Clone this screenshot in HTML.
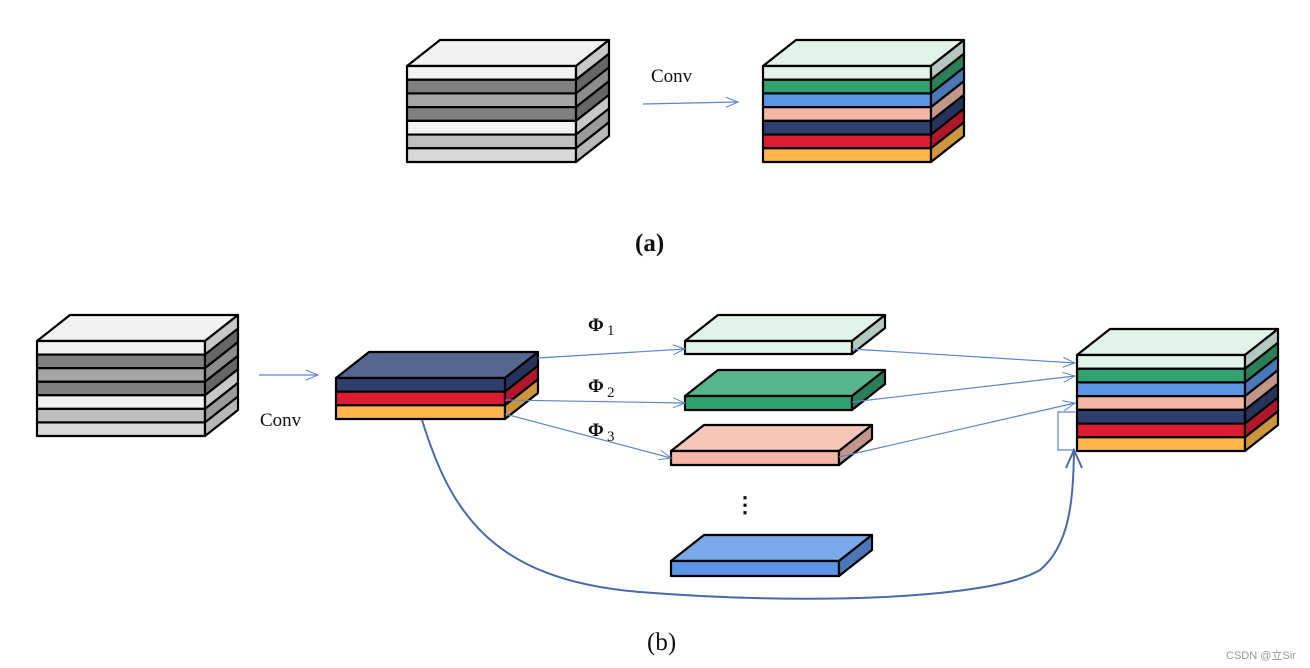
<!DOCTYPE html>
<html><head><meta charset="utf-8"><style>
html,body{margin:0;padding:0;background:#fff;width:1310px;height:668px;overflow:hidden}
svg{display:block}
text{font-family:"Liberation Serif",serif;fill:#111}
</style></head><body>
<svg id="s" width="1310" height="668" xmlns="http://www.w3.org/2000/svg">
<defs>
<marker id="ah" markerWidth="14" markerHeight="12" refX="13" refY="6" orient="auto" markerUnits="userSpaceOnUse">
<path d="M1,1 L13,6 L1,11" fill="none" stroke="#5b87c9" stroke-width="1"/>
</marker>
</defs>
<g id="g"></g>
<g fill="none" stroke="#5b87c9" stroke-width="1.2">
<line x1="643" y1="104" x2="738" y2="102" marker-end="url(#ah)"/>
<line x1="259" y1="375" x2="318" y2="375" marker-end="url(#ah)"/>
<line x1="538" y1="358" x2="685" y2="349" marker-end="url(#ah)"/>
<line x1="505" y1="400" x2="685" y2="403" marker-end="url(#ah)"/>
<line x1="505" y1="414" x2="671" y2="458" marker-end="url(#ah)"/>
<line x1="852" y1="349" x2="1075" y2="363" marker-end="url(#ah)"/>
<line x1="852" y1="402" x2="1075" y2="376" marker-end="url(#ah)"/>
<line x1="839" y1="457" x2="1075" y2="403" marker-end="url(#ah)"/>
<polyline points="1075,412 1058,412 1058,450 1073,450"/>
</g>
<path d="M422,420 C450,510 490,580 640,592 C800,605 990,600 1040,570 C1070,545 1073,500 1074,452" fill="none" stroke="#4a6aa8" stroke-width="2"/>
<path d="M1066,468 L1074,450 L1082,468" fill="none" stroke="#4a6aa8" stroke-width="2"/>
<text x="651" y="82" font-size="19">Conv</text>
<text x="260" y="426" font-size="19">Conv</text>
<text x="635" y="251" font-size="25" font-weight="bold">(a)</text>
<text x="647" y="650" font-size="25">(b)</text>
<text x="588" y="331" font-size="19" font-weight="bold" font-family="DejaVu Sans">Φ</text><text x="607" y="335" font-size="15">1</text>
<text x="588" y="392" font-size="19" font-weight="bold" font-family="DejaVu Sans">Φ</text><text x="607" y="397" font-size="15">2</text>
<text x="588" y="436" font-size="19" font-weight="bold" font-family="DejaVu Sans">Φ</text><text x="607" y="441" font-size="15">3</text>
<text x="734" y="512" font-size="22" font-weight="bold">⋮</text>
<text x="1226" y="659" font-size="11" style="font-family:'Liberation Sans','Noto Sans CJK SC',sans-serif;fill:#999">CSDN @立Sir</text>
</svg>
<script>
var g=document.getElementById('g');
function P(pts,fill){var p=document.createElementNS('http://www.w3.org/2000/svg','polygon');p.setAttribute('points',pts.map(function(a){return a.join(',')}).join(' '));p.setAttribute('fill',fill);p.setAttribute('stroke','#000');p.setAttribute('stroke-width','2.2');p.setAttribute('stroke-linejoin','round');g.appendChild(p);}
function box(x0,x1,yt,yb,dx,dy,layers,top){
 P([[x0,yt],[x0+dx,yt-dy],[x1+dx,yt-dy],[x1,yt]],top);
 var n=layers.length,h=(yb-yt)/n;
 for(var i=0;i<n;i++){var a=yt+i*h,b=a+h;
  P([[x0,a],[x1,a],[x1,b],[x0,b]],layers[i][0]);
  P([[x1,a],[x1+dx,a-dy],[x1+dx,b-dy],[x1,b]],layers[i][1]);}
}
var gray=[['#f2f2f2','#c8c8c8'],['#808080','#666'],['#a6a6a6','#8c8c8c'],['#808080','#666'],['#f2f2f2','#c8c8c8'],['#bfbfbf','#9a9a9a'],['#d9d9d9','#b8b8b8']];
var col=[['#e2f3ea','#b4c8bf'],['#33a06f','#2a7f58'],['#5b96e6','#4a78b6'],['#f4b6a6','#c4968a'],['#2e3f6e','#25325a'],['#dc1c32','#b0172a'],['#ffb74d','#cc963d']];
box(407,576,66,162,33,26,gray,'#f2f2f2');
box(763,931,66,162,33,26,col,'#e2f3ea');
box(37,205,341,436,33,26,gray,'#f2f2f2');
box(336,505,378,419,33,26,[['#2e3f6e','#25325a'],['#dc1c32','#b0172a'],['#ffb74d','#cc963d']],'#56668f');
box(685,852,341,354,33,26,[['#e2f3ea','#b4c8bf']],'#e2f3ea');
box(685,852,396,410,33,26,[['#33a06f','#2a7f58']],'#57b48c');
box(671,839,451,465,33,26,[['#f4b6a6','#c4968a']],'#f6c6b8');
box(671,839,561,576,33,26,[['#5b96e6','#4a78b6']],'#7ba8e8');
box(1077,1245,355,451,33,26,col,'#e2f3ea');
</script>
</body></html>
